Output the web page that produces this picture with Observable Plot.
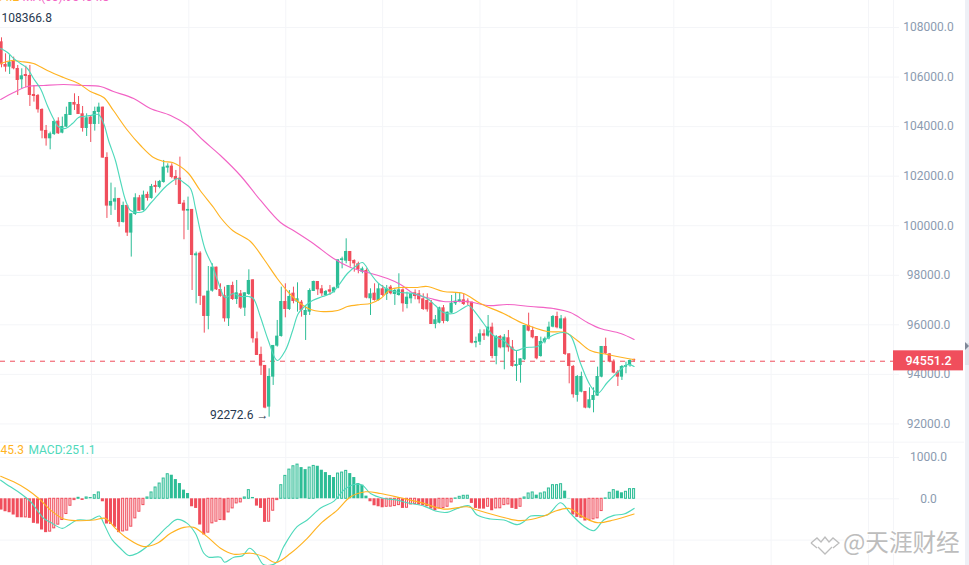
<!DOCTYPE html>
<html><head><meta charset="utf-8">
<script src="https://cdn.jsdelivr.net/npm/d3@7"></script>
<script src="https://cdn.jsdelivr.net/npm/@observablehq/plot@0.6"></script>
<style>
html,body{margin:0;padding:0;background:#fff;overflow:hidden}
#chart{position:relative;width:969px;height:565px;overflow:hidden;font-family:Roboto,sans-serif}
#chart svg{position:absolute;left:0;display:block;background:transparent;overflow:hidden}
#rail{position:absolute;left:965px;top:0;width:4px;height:565px;background:#eef0f6}
#railbtn{position:absolute;left:965px;top:343px;width:4px;height:22px;background:#dfe2ea;overflow:hidden}
#wm{position:absolute;left:843px;top:525px;font:23.6px "Noto Sans CJK SC";color:#bdbdbd;text-shadow:1px 1px 0 #fff,-1px -1px 0 #fff,1px -1px 0 #fff,-1px 1px 0 #fff;white-space:nowrap;line-height:32px}
</style></head><body><div id="chart"><div id="rail"></div><div id="railbtn"></div></div>
<script>
const openP=[107422,106508,106400,106669,106346,105889,106104,106064,105297,105257,104692,103845,103508,103683,104221,103737,103979,104450,104974,104894,104517,103925,104383,104087,104571,104786,102755,100791,100953,101101,100132,100818,99702,100455,101128,100617,101262,101101,101625,101545,101746,102325,102405,101988,101921,100912,100590,100657,98785,98892,97157,96337,97359,98328,97426,97184,96243,97588,97023,97252,96673,97225,97816,95436,94804,94360,92679,93889,95140,95530,96942,96619,97278,96915,96915,96377,96512,97346,97749,97453,97184,97413,97319,97480,98597,98570,98960,98597,98462,98126,98193,97050,97278,96983,97453,97225,97521,97225,97184,97412,96821,97049,97291,97251,97049,96982,96888,96014,96067,96686,96135,96471,96847,96915,97009,96955,96915,95260,95301,95637,95543,95906,94722,95529,95072,95476,95099,94319,94359,94588,95973,95771,95529,94722,95301,95435,95906,96336,95839,96242,94830,94319,93149,93283,93310,92638,92947,93122,93888,95126,94830,94494,94090,93888,94292,94346,94600];
const closeP=[106494,106400,106602,106333,105862,106050,106023,105257,105216,104678,103818,103508,103710,104208,103710,104006,104490,104974,104867,104490,103925,104356,104087,104611,104786,102728,100791,100980,101087,100132,100818,99702,100482,101128,100590,101235,101101,101585,101545,101787,102365,102405,101948,101854,100859,100590,100657,98798,98865,97144,96337,97359,98328,97413,97144,96243,97588,97023,97292,96673,97292,97790,95436,94763,94333,92638,93916,95167,95543,96942,96619,97144,96942,97050,96579,96579,97386,97749,97413,97252,97346,97319,97494,98623,98664,98960,98556,98462,98220,98260,97077,97252,96983,97453,97184,97453,97252,97386,97413,96848,97116,97251,97143,97009,96619,96605,96014,96202,96686,96135,96511,96874,96955,97009,96821,96888,95260,95328,95637,95543,95906,94722,95529,95072,95503,95072,94319,94400,94628,95973,95745,95476,94628,95328,95435,95906,96336,95879,96242,94803,94319,93176,93915,93915,92638,92974,93149,93915,95126,94830,94494,94050,93888,94319,94359,94561,94551.2];
const highP=[107584,106938,106871,106804,106467,106333,106440,106467,105660,105297,104719,104046,103777,104248,104356,104383,104786,104974,105324,105216,104813,104517,104450,104786,104947,104786,102943,101719,101531,101101,100953,100818,100482,101289,101222,101397,101356,101666,101800,101827,102634,102500,102500,102231,102768,101020,101155,100657,98935,98950,97157,98354,98462,98328,97655,97521,97588,97722,97790,97386,97292,98220,97816,95705,95100,94360,94225,95167,96176,97521,97655,97386,97521,97695,96983,96781,97453,97763,97749,97588,97386,97588,97521,98623,98731,99471,98960,98623,98529,98328,98260,97453,97655,97655,97588,97588,97588,97453,98059,97453,97318,97251,97412,97385,97251,97251,96982,96377,96713,96780,96511,97184,97291,97278,97251,97049,96915,95503,95798,95798,96377,96067,95570,95570,95610,95772,95368,94965,94628,95973,96471,95906,95529,95503,95503,96108,96377,96511,96377,96309,94830,94359,93956,94090,93310,93458,93458,94292,95126,95462,94830,94588,94157,94359,94494,94588,94620];
const lowP=[106373,106198,106104,106292,105257,105526,105566,104813,104988,104544,103508,103212,103064,103643,103683,103710,103952,104450,104651,104490,103777,103602,103360,103818,104087,102728,100294,100415,100617,99944,100105,99567,98734,100415,100590,100590,100993,101074,101316,101491,101719,102123,101894,101625,100859,99433,99810,97386,96848,96781,95664,95799,97319,97386,97117,96108,95933,96983,96821,96619,96337,97184,95261,94763,93956,92611,92272.6,93553,95100,95503,96283,96579,96848,96512,96310,95369,96377,97346,97184,97144,97144,97184,97278,97453,98260,98462,98328,98126,98059,98059,97050,96377,96956,96956,97144,96983,97211,96781,97157,96511,96646,96847,97009,96847,96578,96511,96014,95839,96040,96040,96108,96444,96780,96888,96780,96780,95234,95072,95166,95368,95503,94628,94386,95032,94184,94897,94292,93714,93646,94561,95718,95435,94588,94695,95234,95395,95879,95839,95812,94763,93619,93041,92880,93256,92611,92611,92449,93122,93862,94803,94467,94023,93512,93754,94023,94292,94494];
const hist=[-273,-313,-337,-393,-458,-460,-450,-474,-594,-610,-755,-819,-795,-715,-626,-514,-369,-169,-32,24,-40,32,30,88,153,-72,-610,-620,-690,-819,-790,-770,-675,-474,-313,-153,32,153,273,369,490,594,570,465,369,209,128,-193,-233,-634,-875,-819,-594,-554,-514,-530,-330,-233,-112,-88,32,209,32,-177,-233,-570,-554,-289,-32,329,554,706,787,827,755,706,755,795,787,691,634,562,514,610,634,675,610,514,369,329,64,-72,-169,-193,-217,-193,-190,-177,-153,-233,-217,-137,-128,-153,-169,-193,-249,-289,-233,-225,-193,-88,8,48,72,74,-112,-233,-249,-250,-193,-289,-233,-230,-153,-137,-233,-257,-193,32,128,153,88,128,153,249,329,330,353,185,8,-393,-450,-470,-538,-514,-498,-474,-297,8,145,209,185,145,169,233,235];

const fastK=[-0.2,1.5,3,4.7,6.4,7.9,9.6,11.3,12.8,14,15.8,17.5,19,20.2,21.9,23.9,25.2,26.4,28.1,29.3,30.6,31.8,33.5,35,36.7,38.5,40,41.7,43.4,44.9,46.6,47.8,49,50.3,52,53.3,55.2,57.2,58.9,60.9,62.1,63.9,65.8,68,70,71.8,73.2,75,76.7,79.2,81.6,83.1,85.3,87.3,89,91,93,95.9,98.4,101.6,105,107,109,111.5,113.7,115.2,116.9,118.9,121.3,123.8,126.8,129.2,132.2,134.9,138.6,140.3,142.8,145.2,147,149.4,151.9,154.4,156];
const fastMA=[107152,106991,106749,106547,106345,105942,105538,104852,104327,104004,103924,104125,104368,104408,104448,104489,104125,103439,102632,101825,101018,100614,100534,100574,100897,101220,101502,101744,101906,101744,101502,100735,99807,99000,98395,97789,97103,97264,97143,97143,97062,96296,95367,94560,94964,95771,96457,96780,96982,97143,97305,97587,98071,98354,98515,98071,97668,97385,97305,97264,97062,96780,96497,96457,96659,96780,96497,96053,95569,95367,94964,95085,95125,95488,95690,95569,94439,93551,93229,93672,94076,94399,94318];
const midK=[-0.2,2.7,4.7,7.9,11.3,15.3,19,21.9,25.2,27.6,31.1,34.3,37.5,40,42.2,45.9,49,52.3,54,57,61.4,64.6,68,70.8,73.7,76.2,78.7,82.9,85.3,88.5,91,93.5,95.9,98.4,102.1,105,109,113.9,118.1,123.8,128.7,134.6,139.1,142,145.2,149.4,154.4,156];
const midMA=[106547,106668,106628,106547,106265,105982,105740,105417,105175,104650,103843,103237,102753,102592,102551,102148,101421,100735,100332,99807,99363,98677,97870,97305,96861,96618,96538,96578,96739,96820,96861,97062,97426,97506,97506,97547,97345,97264,96861,96457,96053,95730,95690,95367,94964,94802,94641,94600];
const slowK=[-0.2,3,6.4,10.4,15.3,20.2,24.4,27.6,32.6,36.7,41.7,45.9,49.8,54,58.9,63.9,68.8,72,76.9,81.9,86.1,90.3,95.2,98.4,101.6,105.8,109,114.9,119.9,124.8,130.5,136.1,140.3,144.5,147.7,152.7,156];
const slowMA=[105094,105377,105619,105659,105700,105659,105619,105417,105134,104731,104448,104045,103439,102834,102027,101018,100130,99807,99282,98677,98314,98112,97870,97628,97264,97062,96941,96941,96780,96820,96739,96659,96497,96094,95852,95650,95408];
const difK=[-0.2,2.2,4.7,7.2,8.8,10.4,12.1,15,16.6,18.7,21.9,24.2,25.2,27.3,29.3,31.4,33.5,35.9,38.4,40.9,43.3,45.8,47.8,49.9,51.1,54,55,57.3,59.4,61.2,63,64.7,67.6,69.6,72.9,75.4,78.7,82,84.4,86.9,89,91,94.3,97.6,100,104.2,107,109.9,112.4,115.3,117.3,120.6,123.9,127.2,128.8,130.5,134.6,137.9,140.3,143.6,146.1,148.5,151,153.5,156];
const dif=[450,289,128,-72,-273,-474,-570,-715,-634,-514,-514,-418,-594,-996,-1196,-1373,-1317,-1156,-915,-675,-498,-594,-835,-1317,-1413,-1413,-1534,-1413,-1381,-1196,-1357,-1598,-1558,-1156,-675,-514,-225,-56,209,345,329,128,8,-32,-96,-177,-297,-329,-233,-169,-393,-490,-514,-626,-554,-418,-393,-96,-353,-658,-771,-514,-401,-369,-233];
const deaK=[-0.2,3,6.3,9.2,12.1,15.4,18.7,22.8,25.6,28.1,31,35.1,38.4,41.7,45,47.4,50.7,54,57.3,61.4,64.7,67.6,71.3,75.4,78.7,82.8,86.1,89.8,93.5,98.4,103.3,109.1,114.8,117.3,123.1,128,133.8,136.2,139.9,143.6,146.9,151,156];
const dea=[546,410,225,8,-273,-490,-530,-514,-474,-715,-956,-1156,-1076,-835,-691,-691,-915,-1196,-1341,-1317,-1397,-1542,-1317,-956,-600,-273,48,169,128,24,-88,-249,-193,-273,-434,-530,-418,-313,-233,-450,-578,-514,-369];

const priceTicks=[108000,106000,104000,102000,100000,98000,96000,94000,92000];
const macdGrid=[1000,0,-1000];
const macdTicks=[1000,0];
const timeGrid=[22.2,46.2,70.1,94,118,141.9,165.8,189.8,213.8];
const lastPrice=94551.2, hiPrice=108366.8, loPrice=92272.6;

const RED="#f04e5c",GREEN="#2dbd96",TEAL="#4fd9bb",ORANGE="#ffb322",PINK="#f263c5",GRID="#f4f5f8",TXT="#8b9bb0",DARK="#27384f";
const px2k=p=>(p-1)/4.055;
const xScale={domain:[px2k(0),px2k(969)],range:[0,969],axis:null};
const idx=d3.range(openP.length);
const zipL=(k,v)=>k.map((d,i)=>({k:d,v:v[i]}));
const hgrid=t=>Plot.ruleY(t,{x1:px2k(0),x2:px2k(899),stroke:GRID,strokeWidth:1});
const vgrid=Plot.ruleX(timeGrid,{stroke:GRID});
const vaxis=Plot.ruleX([px2k(893)],{stroke:GRID});
const fmt=d=>d.toFixed(1);
const axisLabels=t=>Plot.text(t,{x:px2k(928),y:d=>d,text:fmt,fill:TXT,fontSize:12,textAnchor:"middle"});
const lineOf=(k,v,c)=>Plot.line(zipL(k,v),{x:"k",y:"v",stroke:c,strokeWidth:1.15,curve:"catmull-rom"});

const pricePlot=Plot.plot({width:969,height:441,margin:0,x:xScale,
 y:{domain:[91291,109090],range:[441,0],axis:null},
 style:{fontFamily:"Roboto,sans-serif"},
 marks:[
  hgrid(priceTicks),vgrid,vaxis,
  Plot.ruleY([lastPrice],{x1:px2k(0),x2:px2k(899),stroke:RED,strokeWidth:1,strokeDasharray:"5 5",dy:0.5}),
  Plot.ruleX(idx,{x:d=>d,y1:d=>lowP[d],y2:d=>highP[d],stroke:d=>closeP[d]>=openP[d]?GREEN:RED,strokeWidth:1}),
  Plot.rect(idx,{x1:d=>d-0.4,x2:d=>d+0.4,y1:d=>openP[d],y2:d=>closeP[d],fill:d=>closeP[d]>=openP[d]?GREEN:RED}),
  lineOf(slowK,slowMA,PINK),lineOf(midK,midMA,ORANGE),lineOf(fastK,fastMA,TEAL),
  axisLabels(priceTicks),
  Plot.rect([lastPrice],{x1:px2k(893),x2:px2k(963),y1:d=>d-410,y2:d=>d+400,fill:RED}),
  Plot.text([lastPrice],{x:px2k(928),y:d=>d,text:fmt,fill:"#fff",fontSize:12.5,fontWeight:500,textAnchor:"middle"}),
  Plot.text([hiPrice],{x:px2k(1),y:d=>d,text:fmt,fill:DARK,fontSize:12,textAnchor:"start"}),
  Plot.text([loPrice],{x:px2k(268),y:d=>d,dy:-2,text:d=>fmt(d)+" →",fill:DARK,fontSize:12,textAnchor:"end"}),
  Plot.text(["MA(30):94664.2"],{x:px2k(-68),frameAnchor:"top",dy:-8,text:d=>d,fill:ORANGE,fontSize:12,textAnchor:"start"}),
  Plot.text(["MA(60):95404.8"],{x:px2k(22),frameAnchor:"top",dy:-8,text:d=>d,fill:PINK,fontSize:12,textAnchor:"start"})
 ]});
const macdPlot=Plot.plot({width:969,height:124,margin:0,x:xScale,
 y:{domain:[-1614,1386],range:[124,0],axis:null},
 style:{fontFamily:"Roboto,sans-serif"},
 marks:[
  hgrid(macdGrid),vgrid,vaxis,
  Plot.ruleY([1370],{x1:px2k(0),x2:px2k(964),stroke:GRID,strokeWidth:1}),
  Plot.rect(idx.filter(i=>!(i>0&&hist[i]>hist[i-1])),{x1:d=>d-0.38,x2:d=>d+0.38,y1:()=>0,y2:d=>hist[d],fill:d=>hist[d]>=0?GREEN:RED}),
  Plot.rect(idx.filter(i=>i>0&&hist[i]>hist[i-1]),{x1:d=>d-0.25,x2:d=>d+0.25,y1:()=>0,y2:d=>hist[d],fill:d=>hist[d]>=0?"#d3f1e8":"#fde0e3",stroke:d=>hist[d]>=0?GREEN:RED,strokeWidth:1}),
  lineOf(difK,dif,TEAL),lineOf(deaK,dea,ORANGE),
  axisLabels(macdTicks),
  Plot.text(["45.3"],{x:px2k(0),frameAnchor:"top",dy:4,text:d=>d,fill:ORANGE,fontSize:12,textAnchor:"start"}),
  Plot.text(["MACD:251.1"],{x:px2k(28),frameAnchor:"top",dy:4,text:d=>d,fill:TEAL,fontSize:12,textAnchor:"start"})
 ]});
pricePlot.style.top="0px"; macdPlot.style.top="441px";
const host=document.getElementById("chart");
host.insertBefore(macdPlot,host.firstChild); host.insertBefore(pricePlot,host.firstChild);
host.insertAdjacentHTML("beforeend",`<svg width="30" height="24" style="position:absolute;left:810px;top:533px"><g fill="none" stroke="#bdbdbd" stroke-width="1.3"><path d="M1 10L7 5L11 9L15 4L19 9L23 5L29 10L23 15"/><path d="M1 10L7 15"/><path d="M8 14L15 21L22 14"/></g></svg><div id="wm">@天涯财经</div><svg width="4" height="14" style="position:absolute;left:965px;top:340px"><path d="M0 2L4 6L0 10Z" fill="#7e8797"/></svg>`);
</script></body></html>
